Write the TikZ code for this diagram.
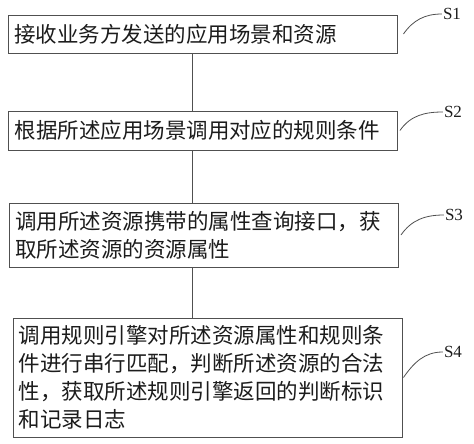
\documentclass[tikz,border=0pt]{standalone}
\usepackage{fontspec}
\newfontfamily\cjk{Noto Sans CJK SC}
\newfontfamily\lblfont{Liberation Serif}
\definecolor{boxgray}{HTML}{505050}
\definecolor{textcol}{HTML}{1C1C1C}
\begin{document}
\begin{tikzpicture}[x=1pt,y=-1pt]
\useasboundingbox[fill=white] (0,0) rectangle (474,444);
\tikzset{
  box/.style={draw=boxgray, line width=0.9pt, inner xsep=6pt, inner ysep=0pt,
    align=left, text width=377pt, text=textcol,
    font=\cjk\fontsize{21.5}{28}\selectfont},
  lbl/.style={text=textcol, inner sep=1pt, font=\lblfont\fontsize{17}{17}\selectfont},
  link/.style={draw=boxgray, line width=0.9pt},
  lead/.style={draw=boxgray, line width=0.8pt}
}
\node[box, minimum height=38pt] (b1) at (202.5,34) {接收业务方发送的应用场景和资源};
\node[box, minimum height=39pt] (b2) at (203,130.5) {根据所述应用场景调用对应的规则条件};
\node[box, minimum height=64pt] (b3) at (204,235) {调用所述资源携带的属性查询接口，获\\取所述资源的资源属性};
\node[box, minimum height=119pt] (b4) at (207.5,377.5) {调用规则引擎对所述资源属性和规则条\\件进行串行匹配，判断所述资源的合法\\性，获取所述规则引擎返回的判断标识\\和记录日志};
\node[lbl] (s1) at (452,14) {S1};
\node[lbl] (s2) at (453,112) {S2};
\node[lbl] (s3) at (454,215) {S3};
\node[lbl] (s4) at (453,352) {S4};
\coordinate (lx) at (192,0);
\draw[link] (b1.south -| lx) -- (b2.north -| lx);
\draw[link] (b2.south -| lx) -- (b3.north -| lx);
\draw[link] (b3.south -| lx) -- (b4.north -| lx);
\draw[lead] ([xshift=6pt]b1.east) to[out=55,in=180] (s1.west);
\draw[lead] ([xshift=2pt]b2.east) to[out=55,in=180] (s2.west);
\draw[lead] ([xshift=2pt]b3.east) to[out=55,in=180] (s3.west);
\draw[lead] ([xshift=1pt]b4.east) to[out=55,in=180] (s4.west);
\end{tikzpicture}
\end{document}
